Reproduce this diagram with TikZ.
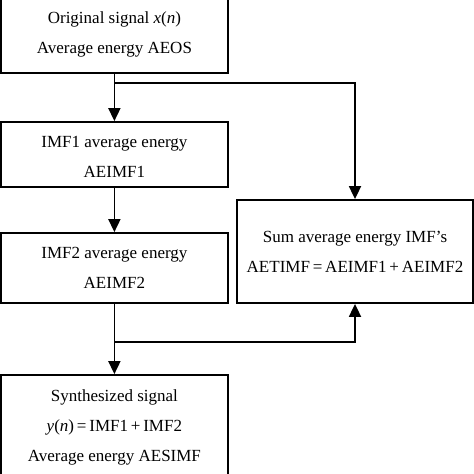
\documentclass[tikz,border=0pt]{standalone}
\usepackage{fontspec}
\setmainfont{Liberation Serif}
\usetikzlibrary{arrows.meta}
\begin{document}
\begin{tikzpicture}[x=1pt,y=-1pt,
  box/.style={draw=black,line width=1.8pt,rectangle,inner sep=0pt,align=center,
    font=\fontsize{17}{30}\selectfont},
  conn/.style={line width=1.8pt},
  arr/.style={conn,-{Triangle[length=13pt,width=12pt]}}]
\useasboundingbox (0,0) rectangle (474,474);
\node[box,minimum width=227.2pt,minimum height=81pt] (b1) at (114.4,32.5)
  {\rule{0pt}{16pt}Original signal \textit{x}(\textit{n})\\Average energy AEOS};
\node[box,minimum width=227.2pt,minimum height=65pt] (b2) at (114.4,154.5)
  {\rule{0pt}{16pt}IMF1 average energy\\AEIMF1};
\node[box,minimum width=227.2pt,minimum height=70pt] (b3) at (114.4,268)
  {IMF2 average energy\\AEIMF2};
\node[box,minimum width=236pt,minimum height=103pt] (b4) at (355,251.5)
  {Sum average energy IMF’s\\AETIMF\,=\,AEIMF1\,+\,AEIMF2};
\node[box,minimum width=227.2pt,minimum height=104pt] (b5) at (114.4,427)
  {Synthesized signal\\\textit{y}(\textit{n})\,=\,IMF1\,+\,IMF2\\Average energy AESIMF};
\coordinate (j1) at (b1.south |- 0,83);
\coordinate (j2) at (b3.south |- 0,342);
\draw[arr] (b1.south) -- (b2.north);
\draw[arr] (j1) -| (b4.north);
\draw[arr] (b2.south) -- (b3.north);
\draw[arr] (b3.south) -- (b5.north);
\draw[arr] (j2) -| (b4.south);
\end{tikzpicture}
\end{document}
